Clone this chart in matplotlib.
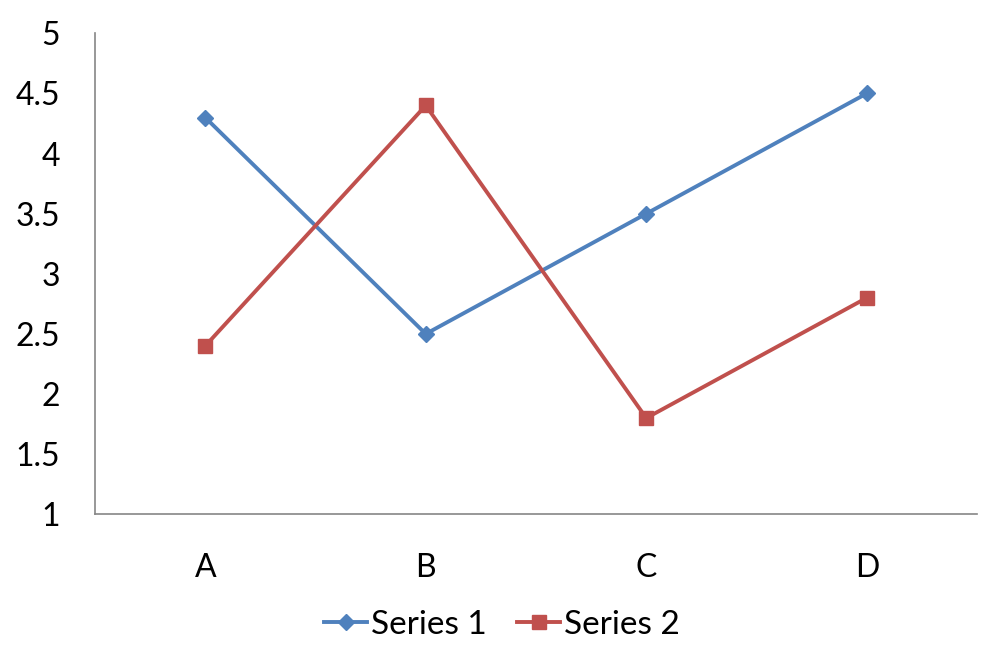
import matplotlib
matplotlib.use("Agg")
import matplotlib.pyplot as plt
import numpy as np

categories = ["A", "B", "C", "D"]
series1 = [4.3, 2.5, 3.5, 4.5]
series2 = [2.4, 4.4, 1.8, 2.8]

plt.rcParams['font.family'] = ['Lato', 'DejaVu Sans']

fig = plt.figure(figsize=(10, 6.67), dpi=100)
ax = fig.add_axes([0.095, 0.229, 0.882, 0.721])

x = np.arange(len(categories)) + 0.5
ax.plot(x, series1, color='#4F81BD', lw=2.8, marker='D', ms=8, label='Series 1')
ax.plot(x, series2, color='#C0504D', lw=2.8, marker='s', ms=10, label='Series 2')

ax.set_xlim(0, 4)
ax.set_ylim(1, 5)
ax.set_xticks(x)
ax.set_xticklabels(categories)
ax.set_yticks([1, 1.5, 2, 2.5, 3, 3.5, 4, 4.5, 5])
ax.set_yticklabels(['1', '1.5', '2', '2.5', '3', '3.5', '4', '4.5', '5'])
ax.tick_params(length=0, labelsize=23)
ax.tick_params(axis='x', pad=28)
ax.tick_params(axis='y', pad=25)
for s in ['top', 'right']:
    ax.spines[s].set_visible(False)
for s in ['left', 'bottom']:
    ax.spines[s].set_color('#868686')
    ax.spines[s].set_linewidth(1.2)

fig.legend(loc='center', bbox_to_anchor=(0.502, 0.063), ncol=2, frameon=False,
           fontsize=24, handlelength=1.3, handletextpad=0.12, columnspacing=0.9)

plt.savefig("out.png", dpi=100)
